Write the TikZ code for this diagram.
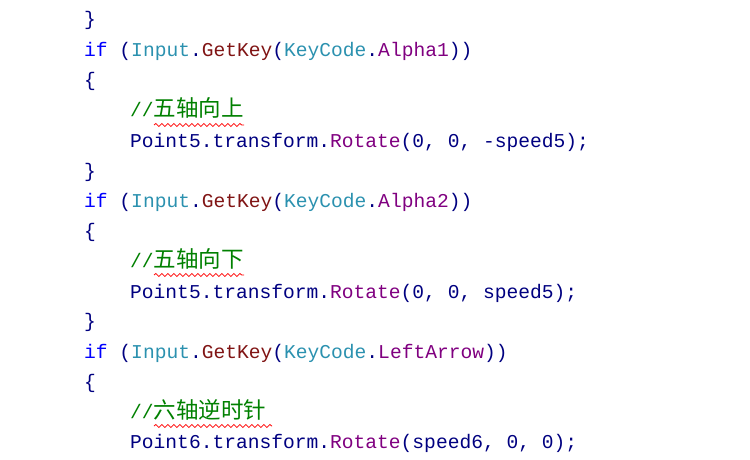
\documentclass[tikz,border=0pt]{standalone}
\usepackage{fontspec}
\setmonofont{Liberation Mono}
\newfontfamily\cjk{Noto Sans CJK SC}
\usetikzlibrary{decorations.pathmorphing}
\definecolor{kw}{RGB}{0,0,255}
\definecolor{ty}{RGB}{43,145,175}
\definecolor{me}{RGB}{128,20,20}
\definecolor{pu}{RGB}{128,0,128}
\definecolor{id}{RGB}{0,0,128}
\definecolor{cm}{RGB}{0,128,0}
\newcommand{\KW}[1]{\textcolor{kw}{#1}}
\newcommand{\TY}[1]{\textcolor{ty}{#1}}
\newcommand{\ME}[1]{\textcolor{me}{#1}}
\newcommand{\PU}[1]{\textcolor{pu}{#1}}
\newcommand{\ID}[1]{\textcolor{id}{#1}}
\newcommand{\CJ}[1]{{\cjk\fontsize{22.5}{22}\selectfont #1}}
\begin{document}
\begin{tikzpicture}[x=1pt,y=-1pt,
  code/.style={anchor=base west,inner sep=0pt,font=\ttfamily\fontsize{19.6}{20}\selectfont,text=id},
  squig/.style={draw=red,line width=0.8pt,decorate,decoration={snake,amplitude=1.5pt,segment length=6pt}}]
\useasboundingbox (0,0) rectangle (750,460);
\node[code] (l1) at (84,26) {\}};
\node[code] (l2) at (84,57) {\KW{if} (\TY{Input}.\ME{GetKey}(\TY{KeyCode}.\PU{Alpha1}))};
\node[code] (l3) at (84,87) {\{};
\node[code] (l4) at (130,117) {\textcolor{cm}{//\CJ{五轴向上}}};
\node[code] (l5) at (130,147) {Point5.transform.\PU{Rotate}(0, 0, -speed5);};
\node[code] (l6) at (84,177) {\}};
\node[code] (l7) at (84,207) {\KW{if} (\TY{Input}.\ME{GetKey}(\TY{KeyCode}.\PU{Alpha2}))};
\node[code] (l8) at (84,237) {\{};
\node[code] (l9) at (130,267) {\textcolor{cm}{//\CJ{五轴向下}}};
\node[code] (l10) at (130,298) {Point5.transform.\PU{Rotate}(0, 0, speed5);};
\node[code] (l11) at (84,327) {\}};
\node[code] (l12) at (84,358) {\KW{if} (\TY{Input}.\ME{GetKey}(\TY{KeyCode}.\PU{LeftArrow}))};
\node[code] (l13) at (84,388) {\{};
\node[code] (l14) at (130,418) {\textcolor{cm}{//\CJ{六轴逆时针}}};
\node[code] (l15) at (130,448) {Point6.transform.\PU{Rotate}(speed6, 0, 0);};
\draw[squig] (154,125) -- (244,125);
\draw[squig] (154,275) -- (244,275);
\draw[squig] (154,426) -- (272,426);
\end{tikzpicture}
\end{document}
